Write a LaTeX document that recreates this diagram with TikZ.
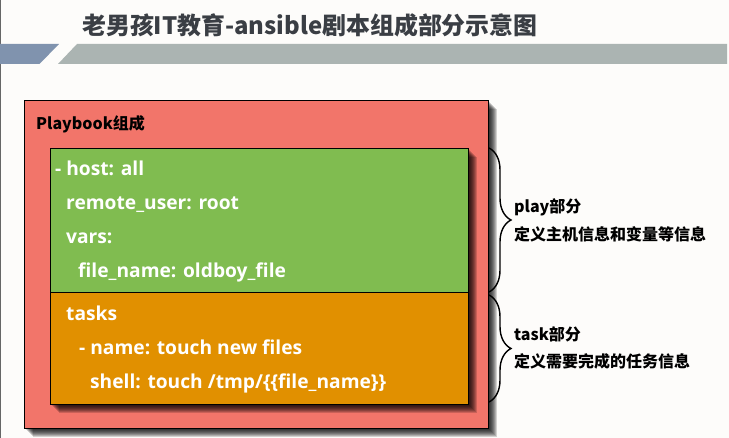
\documentclass[tikz,border=0pt]{standalone}
\usepackage{fontspec}
\setmainfont{Noto Sans CJK SC}
\newfontfamily\codefont{Open Sans}
\usetikzlibrary{decorations.pathreplacing,shadows}
\definecolor{pagecol}{HTML}{FDFCFA}
\definecolor{redbox}{HTML}{F2756A}
\definecolor{greenbox}{HTML}{80BC50}
\definecolor{orangebox}{HTML}{E19000}
\definecolor{bandblue}{HTML}{8093AE}
\definecolor{bandgray}{HTML}{ABB4B2}
\definecolor{titlecol}{HTML}{3A3E44}
\tikzset{
	box/.style = {draw = black, line width = 0.8pt, anchor = north west, inner sep = 0pt},
	softshadow/.style = {drop shadow = {shadow xshift = #1, shadow yshift = -#1, opacity = 0.17, fill = black}},
	softshadows/.style = {softshadow = 2pt, softshadow = 3pt, softshadow = 4pt, softshadow = 5pt, softshadow = 6pt, softshadow = 7pt, softshadow = 8pt, softshadow = 9pt},
	code/.style = {anchor = base west, inner sep = 0pt, text = white, font = \fontsize{19.2}{22}\codefont\bfseries},
	note/.style = {anchor = base west, inner sep = 0pt, text = black, font = \fontsize{16}{18}\selectfont\bfseries},
	bracket/.style = {decorate, decoration = {brace, amplitude = 22pt}, line width = 1.4pt, draw = black}
}
\begin{document}
\begin{tikzpicture}[x = 1pt, y = -1pt]
		\useasboundingbox (0, 0) rectangle (729, 438);
		\fill[pagecol] (0, 0) rectangle (729, 438);
		\draw[black!60, line width = 1pt] (0.5, 0) -- (0.5, 438);
		% title and bands
		\node[anchor = base west, inner sep = 0pt, text = titlecol, font = \fontsize{23.9}{28}\selectfont\bfseries] (title) at (82, 35) {老男孩IT教育-ansible剧本组成部分示意图};
		\fill[bandblue] (0, 44) -- (59, 44) -- (39.5, 64) -- (0, 64) -- cycle;
		\fill[bandgray] (77, 44) -- (727, 44) -- (727, 64) -- (58, 64) -- cycle;
		% boxes
		\node[box, fill = redbox, minimum width = 464pt, minimum height = 328pt, softshadows] (playbook) at (24, 100) {};
		\node[box, fill = greenbox, minimum width = 418pt, minimum height = 144pt, softshadows] (playbox) at (50, 148) {};
		\node[box, fill = orangebox, minimum width = 418pt, minimum height = 112pt, softshadows] (taskbox) at (50, 292) {};
		% texts in the boxes
		\node[note] (playbooktext) at (36, 130) {Playbook组成};
		\node[code] (hostline) at (55, 176) {- host: all};
		\node[code] (userline) at (66, 210) {remote\_user: root};
		\node[code] (varsline) at (66, 244) {vars:};
		\node[code] (fileline) at (78, 278) {file\_name: oldboy\_file};
		\node[code] (tasksline) at (66, 321) {tasks};
		\node[code] (nameline) at (79, 355) {- name: touch new files};
		\node[code] (shellline) at (90, 389) {shell: touch /tmp/\{\{file\_name\}\}};
		% braces
		\coordinate (playtop) at (489, 148);
		\coordinate (playbottom) at (489, 292);
		\coordinate (tasktop) at (489, 295);
		\coordinate (taskbottom) at (489, 402);
		\draw[bracket] (playtop) -- (playbottom);
		\draw[bracket] (tasktop) -- (taskbottom);
		% notes
		\node[note] (playnote) at (514, 213) {play部分};
		\node[note] (playinfo) at (514, 241) {定义主机信息和变量等信息};
		\node[note] (tasknote) at (514, 341) {task部分};
		\node[note] (taskinfo) at (514, 368) {定义需要完成的任务信息};
	\end{tikzpicture}
\end{document}
